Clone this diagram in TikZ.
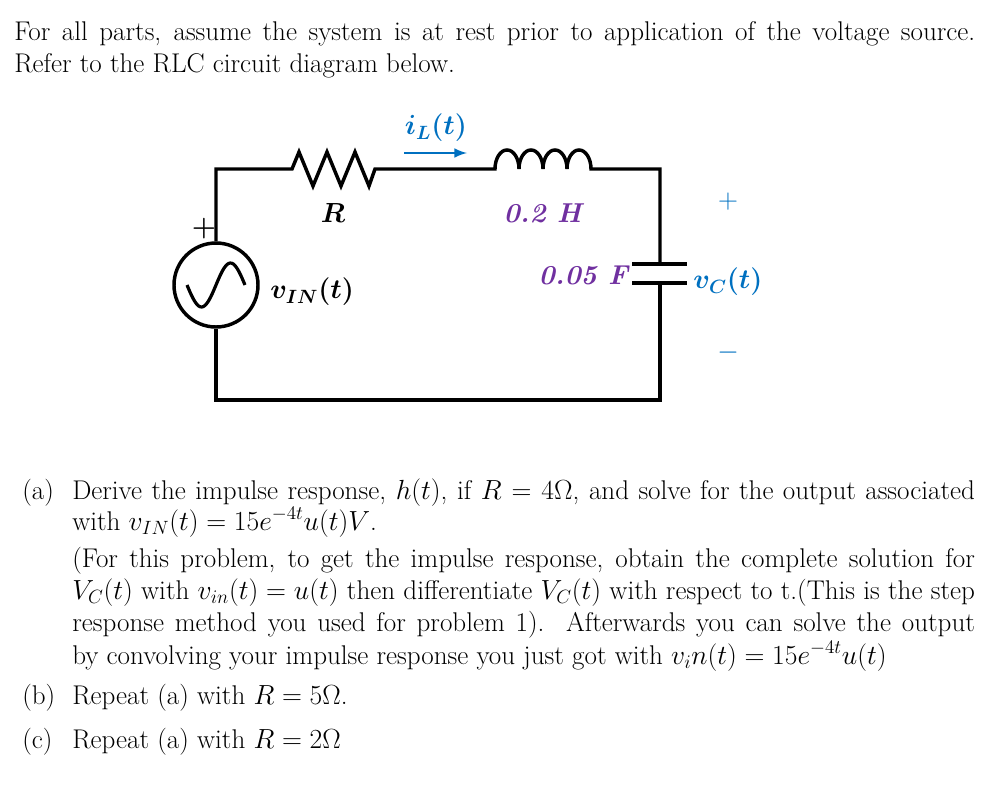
\documentclass[tikz,border=0pt]{standalone}
\usepackage{amsmath,bm}
\definecolor{cblue}{HTML}{0070C0}
\definecolor{cpurp}{HTML}{7030A0}
\begin{document}
\begin{tikzpicture}[x=0.75pt,y=-0.75pt,
  wire/.style={line width=2.6pt,line join=miter},
  txt/.style={anchor=base west,inner sep=0,font=\fontsize{20.3}{24}\selectfont},
  lab/.style={inner sep=0,font=\fontsize{20.5}{24}\selectfont}]
\useasboundingbox (0,0) rectangle (1000,793);
% text
\node[txt] (t1) at (14,40) {\parbox[b]{720.75pt}{\parfillskip=0pt For all parts, assume the system is at rest prior to application of the voltage source.}};
\node[txt] (t2) at (14,72) {Refer to the RLC circuit diagram below.};
\node[txt] (al) at (22,499) {(a)};
\node[txt] (a1) at (72,499) {\parbox[b]{677pt}{\parfillskip=0pt Derive the impulse response, $h(t)$, if $R=4\Omega$, and solve for the output associated}};
\node[txt] (a2) at (72,530) {with $v_{IN}(t)=15e^{-4t}u(t)V$.};
\node[txt] (a3) at (72,567) {\parbox[b]{677pt}{\parfillskip=0pt (For this problem, to get the impulse response, obtain the complete solution for}};
\node[txt] (a4) at (72,599) {\parbox[b]{677pt}{\parfillskip=0pt $V_C(t)$ with $v_{in}(t)=u(t)$ then differentiate $V_C(t)$ with respect to t.(This is the step}};
\node[txt] (a5) at (72,631) {\parbox[b]{677pt}{\parfillskip=0pt response method you used for problem 1).\ \ Afterwards you can solve the output}};
\node[txt] (a6) at (72,664) {by convolving your impulse response you just got with $v_in(t)=15e^{-4t}u(t)$};
\node[txt] (bl) at (22,704) {(b)};
\node[txt] (b1) at (72,704) {Repeat (a) with $R=5\Omega$.};
\node[txt] (cl) at (22,748) {(c)};
\node[txt] (c1) at (72,748) {Repeat (a) with $R=2\Omega$};
% circuit
\node[draw,circle,line width=2.6pt,minimum size=63pt,inner sep=0] (src) at (216,285) {};
\coordinate (tl) at (216,169); \coordinate (tr) at (660,169);
\coordinate (bl2) at (216,400); \coordinate (br) at (660,400);
\coordinate (cpt) at (660,264); \coordinate (cpb) at (660,283);
\draw[wire] (src.north) -- (tl) -- (292,169) -- (299,152) -- (313,186) -- (327,152) -- (341,186) -- (355,152) -- (369,186) -- (375,169) -- (495,169)
  arc[start angle=180,end angle=360,x radius=12,y radius=19]
  arc[start angle=180,end angle=360,x radius=12,y radius=19]
  arc[start angle=180,end angle=360,x radius=12,y radius=19]
  arc[start angle=180,end angle=360,x radius=12,y radius=19]
  -- (tr) -- (cpt);
\draw[wire] (cpb) -- (br) -- (bl2) -- (src.south);
\draw[line width=3.2pt] (632,264) -- (687,264);
\draw[line width=3.2pt] (632,283) -- (687,283);
\draw[line width=2.4pt] plot[domain=0:1,samples=40] ({187+58*\x},{285+22*sin(360*\x)});
\draw[cblue,line width=2.2pt,-latex] (404,153) -- (467,153);
\node[lab,cblue] (il) at (436,128) {$\bm{i_L(t)}$};
\node[lab] (rl) at (333,213) {$\bm{R}$};
\node[lab,cpurp] (ll) at (544,213) {\textbf{\textit{0.2 H}}};
\node[lab,cpurp,anchor=east] (cl2) at (630,275) {\textbf{\textit{0.05 F}}};
\node[lab,cblue] (vc) at (728,282) {$\bm{v_C(t)}$};
\node[lab,cblue] (vp) at (728,202) {$+$};
\node[lab,cblue] (vm) at (728,353) {$-$};
\node[lab] (sp) at (204,229) {$\bm{+}$};
\node[lab,anchor=west] (vin) at (270,292) {$\bm{v_{IN}(t)}$};
\end{tikzpicture}
\end{document}
